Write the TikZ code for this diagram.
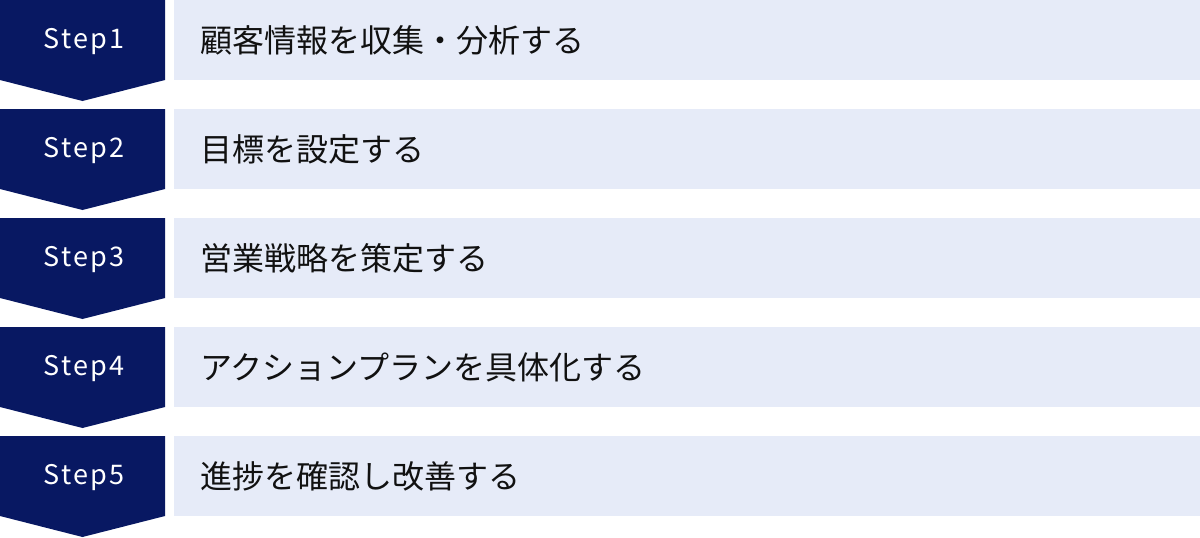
\documentclass[tikz,border=0pt]{standalone}
\usepackage{fontspec}
\setmainfont{Noto Sans}
\newfontfamily\stepfont[LetterSpace=9]{Noto Sans CJK JP}
\newfontfamily\jpfont{Noto Sans CJK JP}
\definecolor{navy}{HTML}{081862}
\definecolor{pale}{HTML}{E6EBF8}
\definecolor{ink}{HTML}{111111}
\begin{document}
\begin{tikzpicture}[x=1pt,y=-1pt,
  chev/.style={fill=navy},
  steplabel/.style={anchor=base,text=white,font=\stepfont\fontsize{27}{27}\selectfont,inner sep=0pt},
  boxstyle/.style={fill=pale,anchor=north west,minimum width=1026pt,minimum height=80pt,inner sep=0pt,draw=none},
  jplabel/.style={anchor=base west,text=ink,font=\jpfont\fontsize{32}{32}\selectfont,inner sep=0pt}]
\useasboundingbox (0,0) rectangle (1200,538);
\foreach \i/\t in {1/顧客情報を収集・分析する,2/目標を設定する,3/営業戦略を策定する,4/アクションプランを具体化する,5/進捗を確認し改善する}{
  \pgfmathsetmacro{\yy}{(\i-1)*109}
  \fill[chev] (0,\yy) -- (165,\yy) -- (165,\yy+80) -- (82.5,\yy+101) -- (0,\yy+80) -- cycle;
  \node[steplabel] (s\i) at (84,\yy+48.5) {Step\i};
  \node[boxstyle] (b\i) at (174,\yy) {};
  \node[jplabel] (t\i) at (200,\yy+52) {\t};
}
\end{tikzpicture}
\end{document}
